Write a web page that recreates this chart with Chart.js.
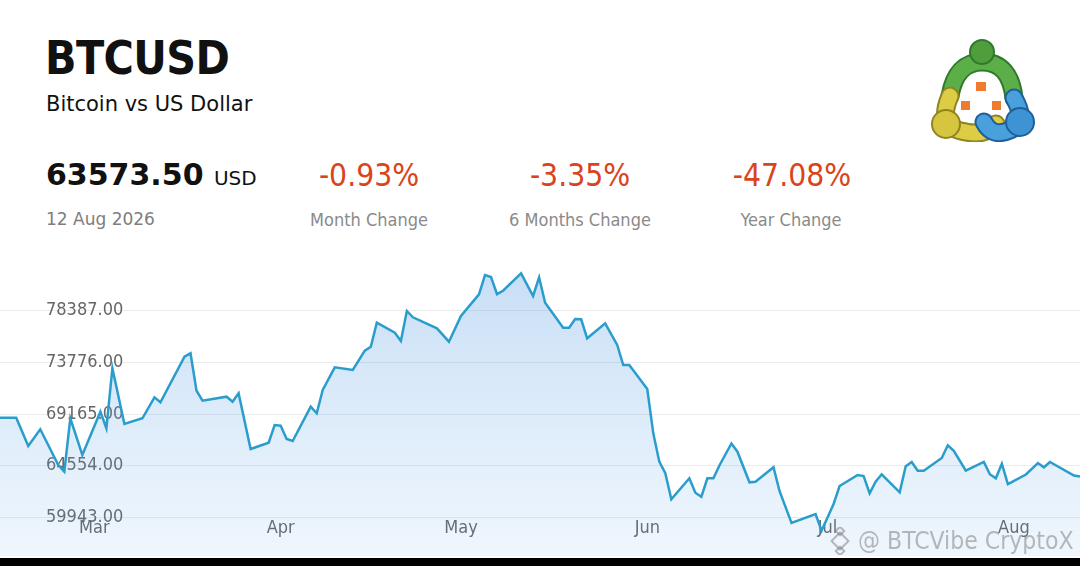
<!DOCTYPE html>
<html>
<head>
<meta charset="utf-8">
<script src="https://cdn.jsdelivr.net/npm/chart.js@4.4.1/dist/chart.umd.min.js"></script>
<style>
  html, body { margin: 0; padding: 0; width: 1080px; height: 566px; overflow: hidden; background: #fff; }
  body { font-family: 'DejaVu Sans Condensed', 'DejaVu Sans', sans-serif; color: #111; }
  .abs { position: absolute; white-space: nowrap; line-height: 1; }
  .wide { font-family: 'DejaVu Sans', sans-serif; }
  .chg { font-size: 31.5px; color: #d9441d; text-align: center; width: 220px; }
  .lbl { font-size: 18px; color: #8a8a8a; text-align: center; width: 220px; }
  #wrap { position: absolute; left: 0; top: 258px; width: 1080px; height: 298px; }
  #bar { position: absolute; left: 0; top: 558px; width: 1080px; height: 8px; background: #000; }
  #mark { position: absolute; left: 826px; top: 527px; font-size: 24.5px; color: rgba(120,120,120,0.5); white-space: nowrap; line-height: 1; }
</style>
</head>
<body>

<div class="abs" style="left:45px; top:35px; font-size:46px; font-weight:bold; letter-spacing:-0.6px;">BTCUSD</div>
<div class="abs wide" style="left:46px; top:94px; font-size:21px;">Bitcoin vs US Dollar</div>
<div class="abs wide" style="left:46px; top:160px; font-size:30px; font-weight:bold;">63573.50 <span style="font-size:20px; font-weight:normal;">USD</span></div>
<div class="abs wide" style="left:46px; top:211px; font-size:17px; color:#7e7e7e;">12 Aug 2026</div>

<div class="abs chg" style="left:259px; top:160px;">-0.93%</div>
<div class="abs lbl" style="left:259px; top:211px;">Month Change</div>
<div class="abs chg" style="left:470px; top:160px;">-3.35%</div>
<div class="abs lbl" style="left:470px; top:211px;">6 Months Change</div>
<div class="abs chg" style="left:682px; top:160px;">-47.08%</div>
<div class="abs lbl" style="left:681px; top:211px;">Year Change</div>

<svg class="abs" style="left:926px; top:38px;" width="112" height="104" viewBox="0 0 112 104">
  <g stroke-linecap="round" fill="none">
    <path d="M24 58 Q30 24 56 24 Q84 24 88 60" stroke="#2f7a2a" stroke-width="19"/>
    <path d="M24 58 Q30 24 56 24 Q84 24 88 60" stroke="#5cae48" stroke-width="15"/>
    <path d="M24 58 Q10 90 40 94 Q60 98 70 86" stroke="#8f8420" stroke-width="19"/>
    <path d="M24 58 Q10 90 40 94 Q60 98 70 86" stroke="#dccd45" stroke-width="15"/>
    <path d="M88 60 Q102 84 84 92 Q66 100 58 84" stroke="#1f5f9a" stroke-width="19"/>
    <path d="M88 60 Q102 84 84 92 Q66 100 58 84" stroke="#4aa0dc" stroke-width="15"/>
  </g>
  <circle cx="56" cy="14" r="12" fill="#4f9e3e" stroke="#2f7a2a" stroke-width="2"/>
  <circle cx="20" cy="86" r="14" fill="#d6c63f" stroke="#8f8420" stroke-width="2"/>
  <circle cx="94" cy="84" r="14" fill="#3d93d4" stroke="#1f5f9a" stroke-width="2"/>
  <rect x="50" y="44" width="10" height="9" fill="#f07b2e"/>
  <rect x="35" y="63" width="9" height="9" fill="#f07b2e"/>
  <rect x="66" y="63" width="9" height="9" fill="#f07b2e"/>
</svg>

<div id="wrap"><canvas id="chart"></canvas></div>

<div id="mark"><svg width="28" height="28" viewBox="0 0 28 28" style="vertical-align:-6px; margin-right:4px;">
  <g fill="none" stroke="rgba(120,120,120,0.5)" stroke-width="2">
    <rect x="8" y="8" width="12" height="12" transform="rotate(45 14 14)"/>
    <rect x="11" y="1" width="6" height="6" transform="rotate(45 14 4)"/>
    <rect x="11" y="21" width="6" height="6" transform="rotate(45 14 24)"/>
  </g></svg>@ BTCVibe CryptoX</div>

<div id="bar"></div>

<script>
// daily closes picked off the chart, Feb 13 - Aug 12 2026
const dates = [
  '2026-02-13', '2026-02-16', '2026-02-18', '2026-02-20', '2026-02-23', '2026-02-24', '2026-02-25', '2026-02-27',
  '2026-03-02', '2026-03-03', '2026-03-04', '2026-03-06', '2026-03-09', '2026-03-11', '2026-03-12', '2026-03-16',
  '2026-03-17', '2026-03-18', '2026-03-19', '2026-03-23', '2026-03-24', '2026-03-25', '2026-03-27', '2026-03-30',
  '2026-03-31', '2026-04-01', '2026-04-02', '2026-04-03', '2026-04-06', '2026-04-07', '2026-04-08', '2026-04-10',
  '2026-04-13', '2026-04-15', '2026-04-16', '2026-04-17', '2026-04-20', '2026-04-21', '2026-04-22', '2026-04-23',
  '2026-04-27', '2026-04-29', '2026-05-01', '2026-05-04', '2026-05-05', '2026-05-06', '2026-05-07', '2026-05-08',
  '2026-05-11', '2026-05-13', '2026-05-14', '2026-05-15', '2026-05-18', '2026-05-19', '2026-05-20', '2026-05-21',
  '2026-05-22', '2026-05-25', '2026-05-27', '2026-05-28', '2026-05-29', '2026-06-01', '2026-06-02', '2026-06-03',
  '2026-06-04', '2026-06-05', '2026-06-08', '2026-06-09', '2026-06-10', '2026-06-11', '2026-06-12', '2026-06-13',
  '2026-06-15', '2026-06-16', '2026-06-18', '2026-06-19', '2026-06-22', '2026-06-23', '2026-06-25', '2026-06-29',
  '2026-06-30', '2026-07-02', '2026-07-03', '2026-07-06', '2026-07-07', '2026-07-08', '2026-07-09', '2026-07-10',
  '2026-07-13', '2026-07-14', '2026-07-15', '2026-07-16', '2026-07-17', '2026-07-20', '2026-07-21', '2026-07-22',
  '2026-07-24', '2026-07-27', '2026-07-28', '2026-07-29', '2026-07-30', '2026-07-31', '2026-08-03', '2026-08-05',
  '2026-08-06', '2026-08-07', '2026-08-11', '2026-08-12'
]
const prices = [
  68835, 68835, 66309, 67800, 64613, 64015, 68782, 65505,
  69371, 67889, 73245, 68273, 68782, 70656, 70210, 74281,
  74584, 71245, 70353, 70710, 70263, 71013, 66041, 66603,
  68183, 68121, 66934, 66755, 69817, 69228, 71308, 73334,
  73093, 74816, 75173, 77316, 76423, 75682, 78360, 77798,
  76816, 75620, 77914, 79851, 81574, 81395, 79860, 80172,
  81726, 79699, 81369, 79101, 76869, 76869, 77646, 77619,
  75923, 77262, 75325, 73540, 73540, 71400, 67442, 64907,
  63872, 61551, 63425, 62140, 61783, 63425, 63425, 64568,
  66532, 65800, 63068, 63122, 64407, 62292, 59435, 60238,
  58748, 61131, 62738, 63720, 63631, 62086, 63122, 63782,
  62176, 64497, 64880, 64095, 64104, 65238, 66371, 65880,
  64104, 64880, 63791, 63425, 64729, 62899, 63765, 64791,
  64407, 64880, 63675, 63573.50
]

const yTicks = [59943, 64554, 69165, 73776, 78387]
const monthLabels = ['Mar', 'Apr', 'May', 'Jun', 'Jul', 'Aug']
const monthStarts = ['2026-03-01', '2026-04-01', '2026-05-01', '2026-06-01', '2026-07-01', '2026-08-01']

// days counted from 1 Mar
function dayIndex(s) {
    const [y, m, d] = s.split('-').map(Number)
    return (Date.UTC(y, m - 1, d) - Date.UTC(2026, 2, 1)) / 86400000
}

const points = dates.map((d, i) => ({ x: dayIndex(d), y: prices[i] }))
const tickFont = { family: "'DejaVu Sans Condensed', 'DejaVu Sans', sans-serif", size: 18 }

function areaFill(context) {
    const area = context.chart.chartArea
    if (!area) return 'rgba(90,160,230,0.2)'
    const g = context.chart.ctx.createLinearGradient(0, area.top, 0, area.bottom)
    g.addColorStop(0, 'rgba(80,150,225,0.32)')
    g.addColorStop(1, 'rgba(100,170,235,0.10)')
    return g
}

// labels sit inside the plot, so the axes take no room of their own
function flatten(scale) {
    if (scale.isHorizontal()) scale.height = 0
    else scale.width = 0
    scale.paddingTop = 0
    scale.paddingBottom = 0
    scale.paddingLeft = 0
    scale.paddingRight = 0
}

const canvas = document.getElementById('chart')
const myChart = new Chart(canvas, {
    type: 'line',
    data: {
        datasets: [{
            data: points,
            borderColor: '#2a9dcc',
            borderWidth: 2.5,
            backgroundColor: areaFill,
            fill: 'start',
            pointRadius: 0,
            tension: 0
        }]
    },
    options: {
        responsive: true,
        maintainAspectRatio: false,
        animation: false,
        layout: { padding: 0 },
        plugins: {
            legend: { display: false },
            tooltip: { enabled: false }
        },
        scales: {
            x: {
                type: 'linear',
                min: -15.7,
                max: 164,
                z: 1,
                grid: { display: false },
                border: { display: false },
                afterBuildTicks: scale => {
                    scale.ticks = monthStarts.map(d => ({ value: dayIndex(d) }))
                },
                afterFit: flatten,
                ticks: {
                    mirror: true,
                    padding: 17,
                    autoSkip: false,
                    maxRotation: 0,
                    color: '#666',
                    font: tickFont,
                    callback: (value, index) => monthLabels[index]
                }
            },
            y: {
                min: 56488,
                max: 83092,
                grid: { color: '#ebebeb', lineWidth: 1, drawTicks: false },
                border: { display: false },
                afterBuildTicks: scale => {
                    scale.ticks = yTicks.map(v => ({ value: v }))
                },
                afterFit: flatten,
                ticks: {
                    mirror: true,
                    padding: 46,
                    color: '#666',
                    font: tickFont,
                    callback: value => Number(value).toFixed(2)
                }
            }
        }
    }
})
</script>
</body>
</html>
